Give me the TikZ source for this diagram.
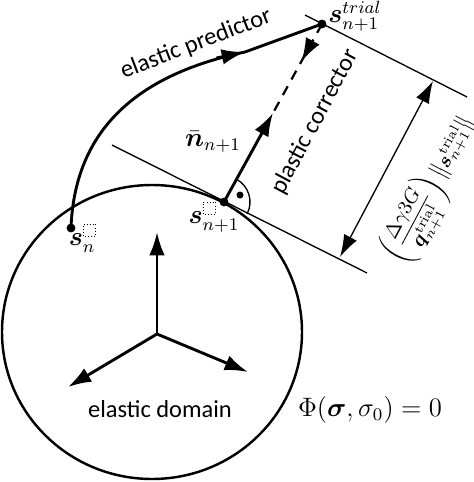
\documentclass[tikz,border=0pt]{standalone}
\usepackage{amsmath}
\usepackage{bm}
\usepackage[no-math]{fontspec}
\setmainfont{Carlito}
\usetikzlibrary{positioning,calc,arrows.meta}
\tikzset{
  thickline/.style={line width=1.3pt},
  thinline/.style={line width=0.6pt},
  bigtip/.style={-{Latex[length=10.5pt,width=7pt]}},
  dotpt/.style={circle,fill,inner sep=0pt,minimum size=4pt},
  mathlabel/.style={font=\large},
  textlabel/.style={font=\fontsize{11}{13}\selectfont},
}
\newcommand{\phbox}{\tikz[baseline=0pt]\draw[densely dotted,line width=0.4pt] (0,0) rectangle (5.5pt,5.5pt);}

\begin{document}
\begin{tikzpicture}[x=0.45pt,y=-0.45pt]
	\useasboundingbox (0,0) rectangle (474,482);
	% points
	\coordinate (ctr) at (157,334);
	\coordinate (axup) at (157,232);
	\coordinate (axleft) at (68,387);
	\coordinate (axright) at (248,372);
	\coordinate (sn) at (71,228);
	\coordinate (snew) at (224,202);
	\coordinate (strial) at (322,24);
	\coordinate (ntip) at ($(snew)!0.5!(strial)$);
	\coordinate (dmid) at ($(strial)!0.42!(ntip)$);
	\coordinate (dtail) at ($(dmid)!0.4!(strial)$);
	\coordinate (ctrl) at (150,72);
	\coordinate (pmid) at (245,52);
	\coordinate (ptail) at ($(pmid)!0.3!(ctrl)$);
	\coordinate (tanA) at (112,145);
	\coordinate (tanB) at (367,273);
	\coordinate (topA) at (305,15);
	\coordinate (topB) at (467,97);
	\coordinate (dbot) at (340,257);
	\coordinate (dtop) at (433,81);
	% yield surface
	\draw[line width=1.1pt] (152,332) ellipse [x radius=150, y radius=147];
	\draw[thickline,bigtip] (ctr) -- (axup);
	\draw[thickline,bigtip] (ctr) -- (axleft);
	\draw[thickline,bigtip] (ctr) -- (axright);
	% tangent lines and distance
	\draw[thinline] (tanA) -- (tanB);
	\draw[thinline] (topA) -- (topB);
	\draw[thinline,{Latex[length=10pt,width=6.5pt]}-{Latex[length=10pt,width=6.5pt]}] (dbot) -- (dtop);
	% predictor and corrector
	\draw[thickline] (sn) .. controls (75,120) and (ctrl) .. (pmid) -- (strial);
	\draw[thickline,bigtip] (ptail) -- (pmid);
	\draw[thickline,bigtip] (snew) -- (ntip);
	\draw[line width=1pt,dash pattern=on 4.5pt off 3.5pt] (strial) -- (ntip);
	\draw[line width=1pt,solid,bigtip] (dtail) -- (dmid);
	\draw[thinline] ($(snew)+(-61:26)$) arc [start angle=-61, end angle=27, radius=26];
	\fill (240,195) circle [radius=3.5];
	\node[dotpt] (dsn) at (sn) {};
	\node[dotpt] (dsnew) at (snew) {};
	\node[dotpt] (dstrial) at (strial) {};
	% labels
	\node[textlabel,rotate=21] (lpred) at (196,44) {elastic predictor};
	\node[textlabel,rotate=62] (lcorr) at (315,122) {plastic corrector};
	\node[mathlabel] (lnbar) at (213,142) {$\bar{\bm{n}}_{n+1}$};
	\node[mathlabel] (lsnew) at (214,217) {$\bm{s}^{\phbox}_{n+1}$};
	\node[mathlabel] (lsn) at (83,238) {$\bm{s}^{\phbox}_{n}$};
	\node[mathlabel] (lstrial) at (355,16) {$\bm{s}^{trial}_{n+1}$};
	\node[rotate=62,font=\fontsize{8.6}{10}\selectfont] (ldim) at (432,190) {$\left(\dfrac{\Delta\gamma 3G}{\bm{q}^{\mathrm{trial}}_{n+1}}\right)\left\|\bm{s}^{\mathrm{trial}}_{n+1}\right\|$};
	\node[mathlabel] (lphi) at (370,410) {$\Phi(\bm{\sigma},\sigma_0)=0$};
	\node[textlabel] (ldom) at (160,409) {elastic domain};
\end{tikzpicture}
\end{document}
